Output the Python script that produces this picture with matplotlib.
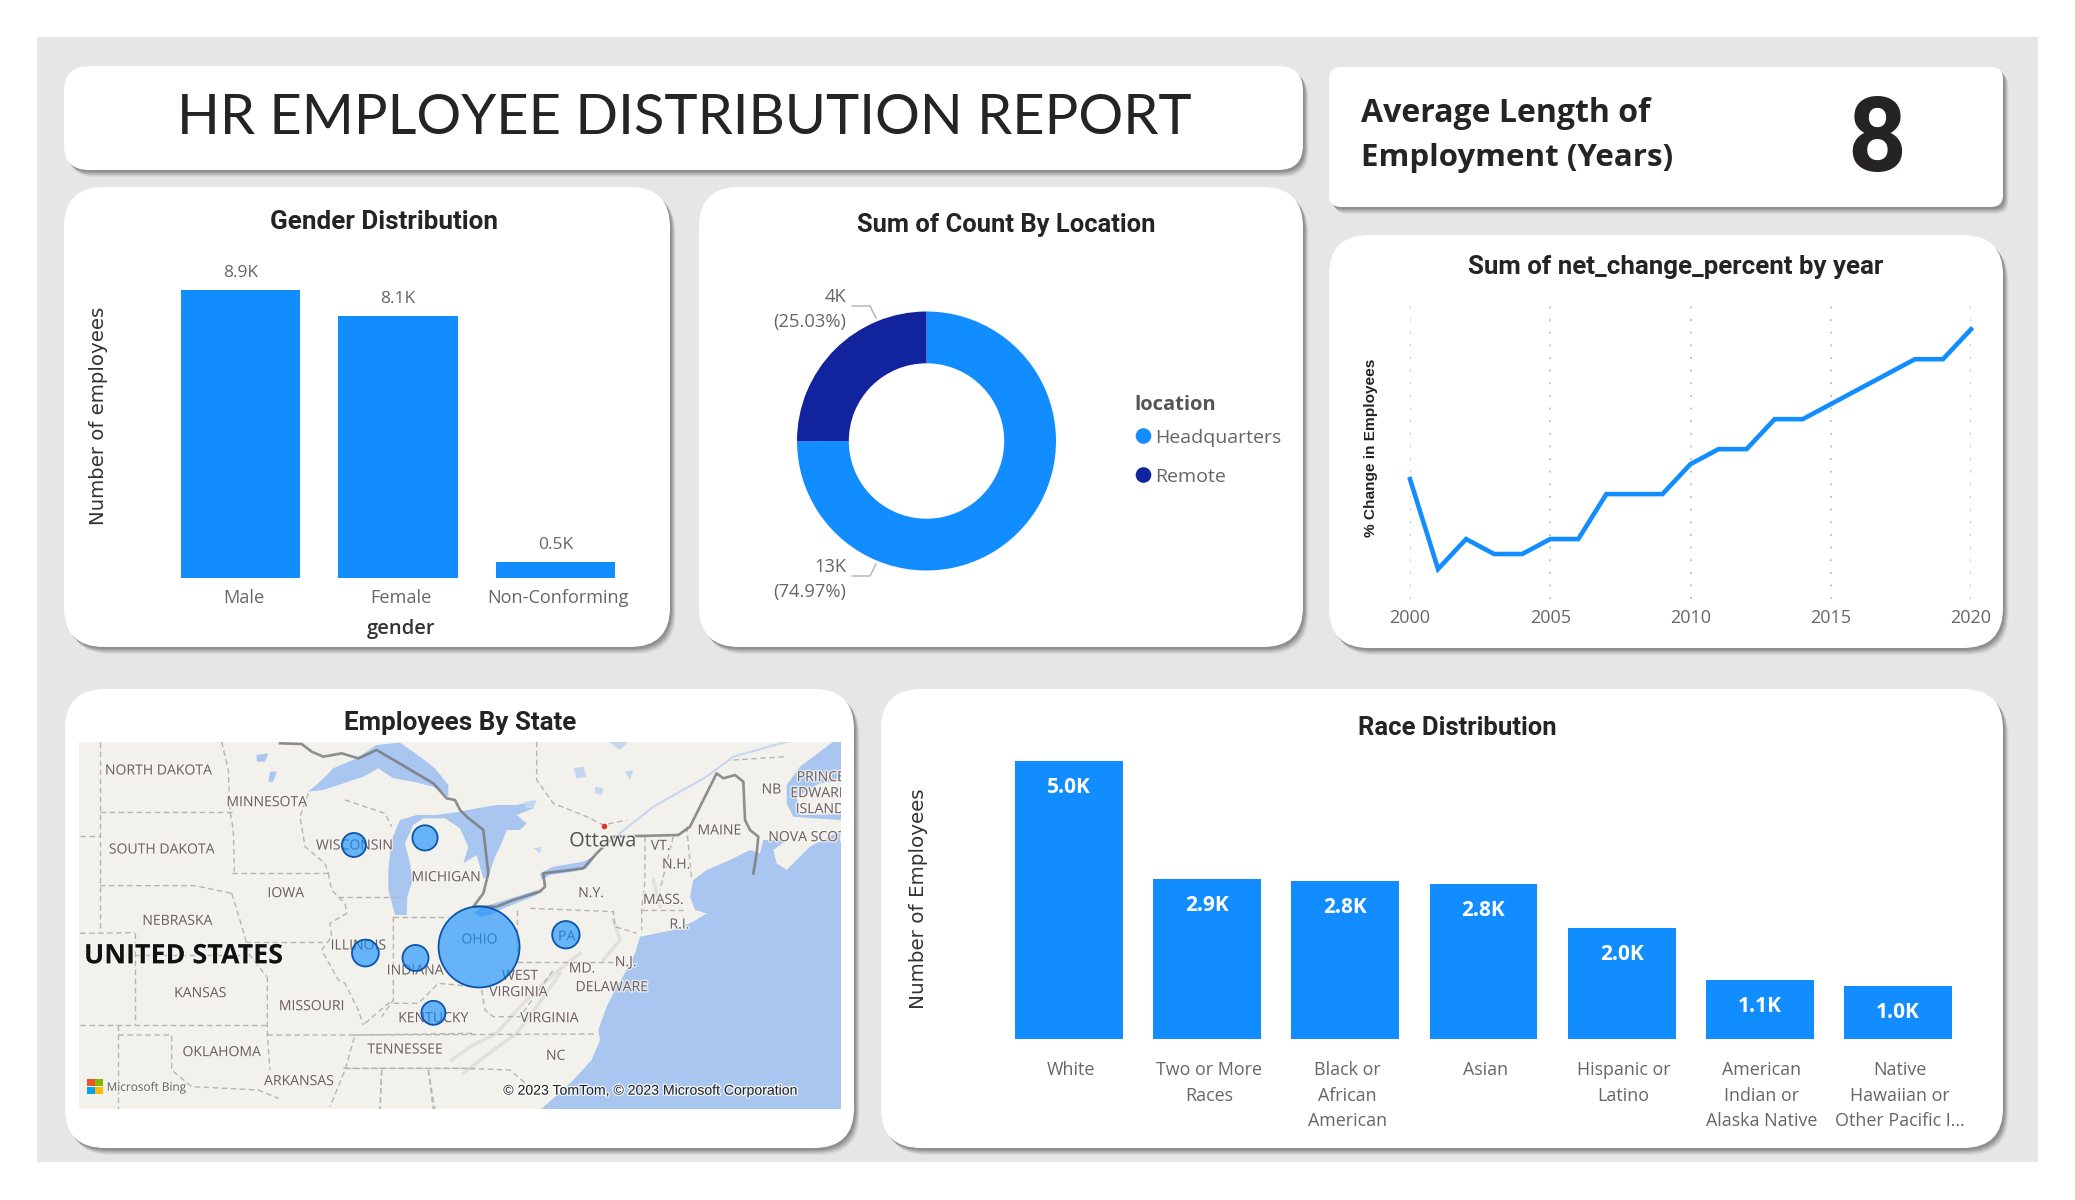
import matplotlib
matplotlib.use("Agg")
import matplotlib.pyplot as plt
import matplotlib.patheffects as pe
from matplotlib.patches import FancyBboxPatch, Polygon, Circle, Rectangle
from matplotlib.transforms import ScaledTranslation
import logging
logging.getLogger("matplotlib.font_manager").setLevel(logging.ERROR)

W, H = 2075, 1200
BLUE, NAVY = "#118DFF", "#12239E"
INK, GREY = "#252423", "#666666"
SEGOE = ["Open Sans", "DejaVu Sans"]
DIN = ["Liberation Sans Narrow", "Roboto", "DejaVu Sans"]

# ---------- data ----------
gender_labels = ["Male", "Female", "Non-Conforming"]
gender_counts = [8900, 8100, 480]
gender_text = ["8.9K", "8.1K", "0.5K"]

location_labels = ["Headquarters", "Remote"]
location_counts = [13120, 4380]
location_text = ["13K", "4K"]
location_pct = ["(74.97%)", "(25.03%)"]

years = list(range(2000, 2021))
net_change = [6, 0, 2, 1, 1, 2, 2, 5, 5, 5, 7, 8, 8, 10, 10, 11, 12, 13, 14, 14, 16]
year_ticks = [2000, 2005, 2010, 2015, 2020]

race_labels = ["White", "Two or More\nRaces", "Black or\nAfrican\nAmerican", "Asian",
               "Hispanic or\nLatino", "American\nIndian or\nAlaska Native",
               "Native\nHawaiian or\nOther Pacific I..."]
race_counts = [5000, 2880, 2840, 2790, 2000, 1060, 960]
race_text = ["5.0K", "2.9K", "2.8K", "2.8K", "2.0K", "1.1K", "1.0K"]

state_lon = [-89.94, -85.97, -82.95, -78.10, -89.30, -86.50, -85.50]
state_lat = [44.18, 44.47, 40.00, 40.50, 39.75, 39.55, 37.30]
state_employees = [1150, 1270, 13100, 1500, 1440, 1350, 1150]

fig = plt.figure(figsize=(W / 100, H / 100), dpi=100, facecolor="white")
ov = fig.add_axes([0, 0, 1, 1], zorder=0)
ov.set_xlim(0, W); ov.set_ylim(H, 0); ov.axis("off")
ov.add_patch(Rectangle((37, 37), 2001, 1125, fc="#E6E6E6", ec="none"))


def panel(l, t, r, b, rad):
    for d, a in [(7, .07), (6, .09), (5, .12), (4, .15), (3, .18), (2, .2)]:
        ov.add_patch(FancyBboxPatch((l + d * .8, t + d), r - l, b - t,
                                    boxstyle=f"round,pad=0,rounding_size={rad}",
                                    fc="#555555", ec="none", alpha=a))
    ov.add_patch(FancyBboxPatch((l, t), r - l, b - t,
                                boxstyle=f"round,pad=0,rounding_size={rad}",
                                fc="white", ec="none"))


for p in [(64, 66, 1303, 170, 25), (1329, 67, 2003, 207, 12), (64, 187, 670, 647, 40),
          (699, 187, 1303, 647, 40), (1329, 235, 2003, 648, 40), (65, 689, 854, 1148, 40),
          (881, 689, 2003, 1148, 40)]:
    panel(*p)


def T(x, y, s, size, width=None, color=INK, family=SEGOE, weight="normal", ha="center",
      rotation=0, ax=None, **kw):
    t = (ax or ov).text(x, y, s, fontsize=size, color=color, family=family, weight=weight,
                        ha=ha, va="center", rotation=rotation, **kw)
    if width:
        e = t.get_window_extent(fig.canvas.get_renderer())
        t.set_fontsize(size * width / (e.height if rotation else e.width))
    return t


def px_axes(l, t, r, b, z=2):
    a = fig.add_axes([l / W, 1 - b / H, (r - l) / W, (b - t) / H], zorder=z)
    a.patch.set_alpha(0)
    for s in a.spines.values():
        s.set_visible(False)
    return a


def nudge_ticks(a, dx):
    for lab in a.get_xticklabels():
        lab.set_transform(lab.get_transform() + ScaledTranslation(dx / 100, 0, fig.dpi_scale_trans))


# ---------- header ----------
T(684, 119, "HR EMPLOYEE DISTRIBUTION REPORT", 40, width=1015, family=["Lato", "Open Sans"])
T(1361, 114, "Average Length of", 22, width=288, weight="bold", ha="left")
T(1361, 158, "Employment (Years)", 22, width=311, weight="bold", ha="left")
T(1877, 143, "8", 74, family=["Roboto", "DejaVu Sans"], weight="bold")

# ---------- gender ----------
T(384, 222, "Gender Distribution", 18, width=228, family=DIN, weight="bold")
ax = px_axes(162, 270, 634, 578)
ax.bar(range(3), gender_counts, width=0.757, color=BLUE)
ax.set_xlim(-.5, 2.5); ax.set_ylim(0, 8900 * 308 / 288); ax.set_yticks([])
ax.set_xticks(range(3), gender_labels, fontsize=13.1, color=GREY, family=SEGOE)
ax.tick_params(axis="x", length=0, pad=8)
nudge_ticks(ax, 3)
for i, (v, s) in enumerate(zip(gender_counts, gender_text)):
    ax.annotate(s, (i, v), xytext=(0, 12.5), textcoords="offset points", ha="center", va="center",
                fontsize=12.5, color=GREY, family=SEGOE)
ax.set_xlabel("gender", fontsize=14.5, color="#333333", family=SEGOE, weight="semibold", va="center")
ax.xaxis.set_label_coords(401, 629, transform=ov.transData)
ax.set_ylabel("Number of employees", fontsize=14.2, color="#333333", family="DejaVu Sans", va="center")
ax.yaxis.set_label_coords(99, 416, transform=ov.transData)

# ---------- donut ----------
T(1006, 225, "Sum of Count By Location", 18, width=299, family=DIN, weight="bold")
ax = px_axes(797, 311, 1056, 571)
ax.pie(location_counts, colors=[BLUE, NAVY], startangle=90, counterclock=False, radius=1,
       wedgeprops=dict(width=0.4, linewidth=0))
ax.set_xlim(-1, 1); ax.set_ylim(-1, 1)
for yy, a, b in [(567, location_text[0], location_pct[0]), (297, location_text[1], location_pct[1])]:
    T(846, yy, a, 13.2, color=GREY, ha="right")
    T(846, yy + 25, b, 13.2, color=GREY, ha="right")
ov.plot([852, 870, 876], [306, 306, 318], color="#B0B0B0", lw=1, zorder=3)
ov.plot([852, 870, 876], [576, 576, 564], color="#B0B0B0", lw=1, zorder=3)
T(1134, 405, "location", 14.5, color="#555555", weight="bold", ha="left")
for yy, c, s in [(436, BLUE, location_labels[0]), (475, NAVY, location_labels[1])]:
    ov.add_patch(Circle((1143.5, yy), 7.8, fc=c, ec="none", zorder=3))
    T(1155, yy + 2, s, 14, color=GREY, ha="left", zorder=3)

# ---------- line ----------
T(1676, 267, "Sum of net_change_percent by year", 18, width=416, family=DIN, weight="bold")
ax = px_axes(1410, 306, 1971, 599)
ax.plot(years, net_change, color=BLUE, lw=3.3, clip_on=False, solid_joinstyle="miter")
ax.set_xlim(2000, 2020); ax.set_ylim(-2, 17.55); ax.set_yticks([])
ax.set_xticks(year_ticks, [str(y) for y in year_ticks], fontsize=13, color=GREY, family=SEGOE)
ax.tick_params(axis="x", length=0, pad=7)
ax.grid(axis="x", color="#BDBDBD", lw=1.3, ls=(0, (1, 6)))
ax.set_axisbelow(True)
ax.set_ylabel("% Change in Employees", fontsize=11.1, color="#222222",
              family=["Liberation Sans", "DejaVu Sans"], weight="bold", va="center")
ax.yaxis.set_label_coords(1371, 448, transform=ov.transData)

# ---------- map ----------
T(460, 723, "Employees By State", 18, width=232, family=DIN, weight="bold")
LON0, LAT0, DX, DY = -105.3, 48.4, 17.9, 24.4
mp = px_axes(79, 742, 841, 1109)
mp.patch.set_alpha(1); mp.patch.set_facecolor("#F3F1EC")
mp.set_xlim(LON0, LON0 + 762 / DX); mp.set_ylim(LAT0 - 367 / DY, LAT0)
mp.set_xticks([]); mp.set_yticks([])


def geo(px, py):
    return LON0 + (px - 79) / DX, LAT0 - (py - 742) / DY


def A(pts):  # right-hand tracing grid
    return [geo(320 + x / 3, 740 + y / 3) for x, y in pts]


def B(pts):  # left-hand tracing grid
    return [geo(75 + x / 3, 740 + y / 3) for x, y in pts]


WATER = "#A9C6F0"
water = [
    [(-35, 155), (0, 125), (40, 85), (110, 55), (170, 15), (240, 8), (300, 50), (345, 85), (385, 135),
     (385, 170), (340, 140), (280, 125), (220, 115), (175, 85), (130, 110), (70, 130), (10, 150)],
    [(225, 525), (205, 450), (205, 390), (215, 300), (240, 240), (290, 225), (350, 225), (420, 215),
     (470, 205), (530, 195), (590, 195), (640, 185), (640, 205), (590, 225), (620, 250), (600, 270),
     (560, 270), (545, 310), (525, 350), (505, 410), (490, 415), (480, 380), (470, 345), (430, 370),
     (445, 320), (420, 265), (375, 235), (310, 235), (280, 255), (255, 310), (270, 370), (278, 420),
     (262, 470), (260, 525)],
    [(460, 520), (490, 500), (540, 485), (620, 460), (670, 445), (650, 465), (600, 485), (550, 505),
     (510, 525), (480, 530)],
    [(660, 400), (700, 380), (790, 365), (830, 345), (800, 385), (760, 395), (690, 405), (665, 420)],
    [(1400, 135), (1440, 80), (1540, 5), (1565, 5), (1565, 240), (1480, 235), (1420, 230), (1400, 190)],
    [(1565, 270), (1470, 320), (1400, 390), (1370, 370), (1360, 330), (1400, 300), (1330, 300),
     (1320, 340), (1290, 330), (1230, 360), (1160, 390), (1120, 420), (1110, 470), (1125, 510),
     (1160, 520), (1120, 545), (1060, 570), (960, 590), (945, 640), (920, 690), (890, 740), (860, 800),
     (835, 870), (840, 900), (815, 960), (760, 1020), (700, 1075), (660, 1110), (1565, 1110)],
]
for w in water:
    mp.add_patch(Polygon(A(w), fc=WATER, ec="none", zorder=1))
mp.add_patch(Polygon(A([(1430, 170), (1500, 130), (1565, 120), (1565, 222), (1440, 225)]),
                     fc="#F3F1EC", ec="none", zorder=1.1))
for poly in [[(545, 45), (580, 40), (570, 65), (545, 65)], [(585, 95), (605, 95), (595, 125), (580, 125)]]:
    mp.add_patch(Polygon(B(poly), fc=WATER, ec="none", zorder=1))
for poly in [[(760, 85), (790, 80), (800, 110), (770, 115)], [(825, 140), (850, 145), (845, 165), (825, 160)],
             [(915, 95), (940, 90), (930, 120)], [(615, 185), (650, 180), (640, 205), (615, 205)],
             [(865, 5), (925, 5), (900, 30)], [(640, 325), (665, 320), (660, 340)]]:
    mp.add_patch(Polygon(A(poly), fc="#C5D7F0", ec="none", zorder=1))
xs, ys = zip(*A([(850, 320), (900, 280), (1000, 200), (1160, 110), (1240, 50), (1400, 5)]))
mp.plot(xs, ys, color="#C5D7F0", lw=1.5, zorder=1.2)

for ridge in [[(395, 960), (450, 920), (530, 880), (600, 800), (680, 720), (780, 640)],
              [(430, 1000), (520, 930), (590, 880), (650, 800), (720, 700)],
              [(880, 540), (900, 600), (850, 660)], [(1000, 420), (1020, 500)]]:
    xs, ys = zip(*A(ridge))
    mp.plot(xs, ys, color="#E2E0DB", lw=2.5, zorder=1.3)

dash = dict(color="#B4B4B4", lw=1.0, ls=(0, (4, 2.5)), zorder=2)
state_lines_b = [
    [(75, 5), (75, 570)], [(75, 215), (470, 215)], [(440, 5), (460, 90), (465, 215), (475, 270), (478, 395)],
    [(75, 437), (360, 437), (470, 460)], [(15, 287), (75, 287)], [(15, 580), (180, 578)],
    [(180, 645), (520, 645)], [(510, 605), (740, 605)], [(470, 400), (760, 400)],
    [(470, 460), (510, 590), (520, 640), (575, 710)], [(180, 578), (180, 855)],
    [(577, 710), (577, 885), (585, 990)], [(15, 855), (577, 855)], [(130, 855), (130, 1110)],
    [(130, 885), (290, 885), (290, 990), (350, 1040), (550, 1050), (610, 1075)],
    [(577, 885), (840, 885), (810, 990), (765, 1100)],
    [(760, 400), (770, 450), (810, 490), (815, 520), (765, 550), (770, 590), (740, 630), (790, 720),
     (810, 730), (850, 810), (865, 855)],
    [(700, 160), (675, 230), (690, 320), (750, 370), (760, 400)], [(810, 180), (930, 220), (950, 260)],
    [(790, 470), (980, 470)], [(955, 530), (955, 780), (920, 830)], [(955, 530), (1120, 530)],
    [(870, 850), (940, 790), (1030, 790), (1090, 730), (1200, 740)], [(850, 885), (1200, 880)],
    [(810, 985), (1200, 985)], [(920, 990), (915, 1110)], [(1060, 990), (1080, 1110)],
]
state_lines_a = [
    [(100, 885), (830, 882)], [(70, 985), (430, 985), (570, 990), (640, 1050)], [(590, 510), (590, 665)],
    [(630, 505), (880, 515), (885, 560), (950, 580)], [(590, 665), (880, 665)],
    [(975, 290), (975, 420), (965, 510), (965, 570)], [(965, 510), (1090, 510)],
    [(1060, 290), (1020, 450)], [(1100, 260), (1115, 420)],
    [(485, 750), (495, 810), (520, 830), (600, 830), (700, 690)],
    [(650, 5), (650, 120), (700, 190), (800, 230), (850, 255), (920, 240)],
    [(1240, 60), (1400, 50)], [(185, 990), (180, 1110)], [(325, 990), (340, 1110)],
]
for ln in state_lines_b:
    xs, ys = zip(*B(ln)); mp.plot(xs, ys, **dash)
for ln in state_lines_a:
    xs, ys = zip(*A(ln)); mp.plot(xs, ys, **dash)
border_b = [(615, 10), (680, 12), (710, 35), (745, 50), (800, 40), (850, 55), (905, 30)]
border_a = [(170, 30), (340, 130), (380, 175), (405, 180), (420, 210), (440, 230), (490, 270), (505, 400),
            (490, 460), (460, 500), (530, 500), (580, 480), (660, 455), (675, 440), (670, 400), (790, 385),
            (830, 340), (880, 290), (1075, 285), (1110, 260), (1150, 180), (1190, 100), (1210, 115),
            (1245, 105), (1270, 125), (1275, 240), (1290, 270), (1315, 290), (1310, 340), (1300, 400)]
xs, ys = zip(*(B(border_b) + A(border_a)))
mp.plot(xs, ys, color="#757575", lw=1.9, alpha=.8, zorder=3, solid_joinstyle="round")

halo = [pe.withStroke(linewidth=2, foreground="#F6F5F2", alpha=.8)]
MAPC = "#6E6060"


def label(pt, s, size=10.1, ha="center", color=MAPC, path=halo, family=SEGOE, weight="normal", width=None):
    x, y = pt[0]
    t = T(x, y, s, size, width=width, ha=ha, color=color, family=family, weight=weight, ax=mp,
          zorder=4, clip_on=True)
    t.set_path_effects(path)
    return t


for s, xy in [("NORTH DAKOTA", (250, 93)), ("MINNESOTA", (575, 188)), ("SOUTH DAKOTA", (260, 330)),
              ("IOWA", (632, 461)), ("NEBRASKA", (307, 544)), ("KANSAS", (376, 761)), ("MISSOURI", (710, 800)),
              ("OKLAHOMA", (440, 938)), ("ARKANSAS", (672, 1025)), ("WISCONSIN", (838, 318)),
              ("ILLINOIS", (850, 618)), ("INDIANA", (1020, 693)), ("KENTUCKY", (1075, 836)),
              ("TENNESSEE", (990, 930))]:
    label(B([xy]), s)
for s, xy in [("MICHIGAN", (378, 413)), ("N.Y.", (813, 461)), ("VT.", (1022, 319)), ("N.H.", (1068, 375)),
              ("MASS.", (1030, 481)), ("R.I.", (1078, 555)), ("MD.", (786, 687)), ("N.J.", (917, 668)),
              ("DELAWARE", (875, 743)), ("WEST", (600, 709)), ("VIRGINIA", (595, 758)),
              ("VIRGINIA", (688, 836)), ("NC", (707, 949)), ("MAINE", (1198, 273)), ("NB", (1354, 150)),
              ("OHIO", (478, 600)), ("PA", (740, 591))]:
    label(A([xy]), s)
for s, xy in [("PRINCE", (1430, 113)), ("EDWARD", (1411, 161)), ("ISLAND", (1427, 209)), ("NOVA SCOTIA", (1345, 293))]:
    label(A([xy]), s, ha="left")
label(A([(848, 304)]), "Ottawa", size=14.3, color="#555555")
label(B([(325, 649)]), "UNITED STATES", size=20, color="#111111", weight="bold", width=199,
      path=[pe.withStroke(linewidth=2, foreground="#F6F5F2", alpha=.7)])
label(B([(95, 1042)]), "Microsoft Bing", size=8.5, ha="left", color="#666666")
label(A([(993, 1052)]), "© 2023 TomTom, © 2023 Microsoft Corporation", size=9.5, color="#222222",
      family=["Liberation Sans", "DejaVu Sans"], width=294,
      path=[pe.withStroke(linewidth=2, foreground="white", alpha=.8)])
for (x0, y0), c in zip([(37, 1017), (61, 1017), (37, 1040), (61, 1040)],
                       ["#F25022", "#7FBA00", "#00A4EF", "#FFB900"]):
    mp.add_patch(Polygon(B([(x0, y0), (x0 + 23, y0), (x0 + 23, y0 + 22), (x0, y0 + 22)]),
                         fc=c, ec="none", zorder=4))
x, y = A([(852, 258)])[0]
mp.plot([x], [y], "o", color="#E8302A", ms=4, mew=0, zorder=4)
bubble_scale = (2 * 40.5 * 0.72) ** 2 / 13100
mp.scatter(state_lon, state_lat, s=[v * bubble_scale for v in state_employees], color=BLUE, alpha=.62,
           linewidths=0, zorder=5)
mp.scatter(state_lon, state_lat, s=[v * bubble_scale for v in state_employees], facecolors="none",
           edgecolors="#0B55A8", linewidths=1.3, zorder=5.1)

# ---------- race ----------
T(1457, 728, "Race Distribution", 18, width=199, family=DIN, weight="bold")
ax = px_axes(1000, 745, 1967, 1039)
ax.bar(range(7), race_counts, width=0.78, color=BLUE)
ax.set_xlim(-.5, 6.5); ax.set_ylim(0, 5000 * 294 / 278); ax.set_yticks([])
ax.set_xticks(range(7), race_labels, fontsize=12.9, color=GREY, family=SEGOE, linespacing=1.52)
ax.tick_params(axis="x", length=0, pad=16)
nudge_ticks(ax, 2)
for i, (v, s) in enumerate(zip(race_counts, race_text)):
    ax.annotate(s, (i, v), xytext=(0, -19), textcoords="offset points", ha="center", va="center",
                fontsize=15, color="white", family=SEGOE, weight="bold")
ax.set_ylabel("Number of Employees", fontsize=14.3, color="#333333", family="DejaVu Sans", va="center")
ax.yaxis.set_label_coords(919, 899, transform=ov.transData)

fig.savefig("out.png", dpi=100)
